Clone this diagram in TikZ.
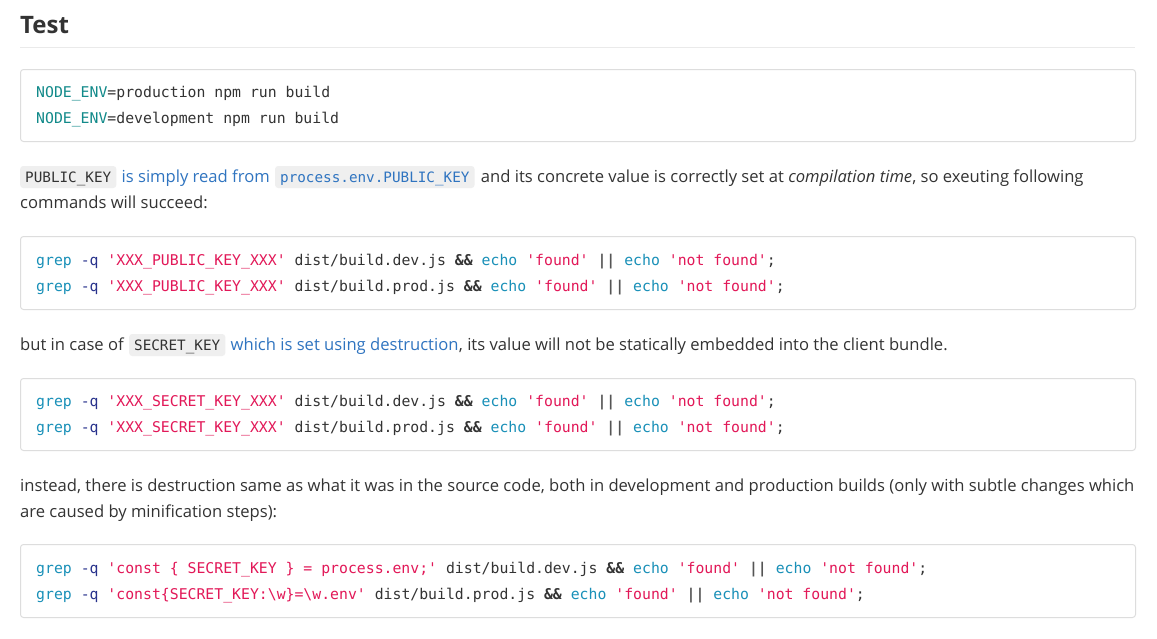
\documentclass[tikz,border=0pt]{standalone}
\usepackage{fontspec}
\setmainfont{Open Sans}
\setmonofont{DejaVu Sans Mono}
\definecolor{txt}{HTML}{333333}
\definecolor{lnk}{RGB}{47,116,192}
\definecolor{icbg}{HTML}{EFEFEF}
\definecolor{boxline}{HTML}{DDDDDD}
\definecolor{rulec}{HTML}{EAEAEA}
\definecolor{envc}{RGB}{18,138,138}
\definecolor{kw}{RGB}{25,144,184}
\definecolor{par}{RGB}{40,50,140}
\definecolor{str}{RGB}{226,24,88}
\definecolor{pipe}{HTML}{555555}
\newcommand{\kwd}[1]{\textcolor{kw}{#1}}
\newcommand{\prm}[1]{\textcolor{par}{#1}}
\newcommand{\st}[1]{\textcolor{str}{#1}}
\newcommand{\andand}{\textbf{\&\&}}
\newcommand{\oror}{\textcolor{pipe}{\textbf{||}}}
\begin{document}
\begin{tikzpicture}[x=1pt,y=-1pt,
  body/.style={anchor=base west, inner sep=0pt, text=txt, font=\fontsize{16.6}{20}\selectfont},
  lnktext/.style={body, text=lnk},
  head/.style={anchor=base west, inner sep=0pt, text=txt, font=\fontsize{24}{28}\selectfont\bfseries},
  codebox/.style={draw=boxline, fill=white, rounded corners=3pt, line width=1pt},
  codeline/.style={anchor=base west, inner sep=0pt, text=txt, font=\ttfamily\fontsize{14.8}{18}\selectfont},
  ic/.style={anchor=base west, fill=icbg, rounded corners=3pt, inner xsep=5pt, inner ysep=0pt,
    text height=16pt, text depth=6pt, text=txt, font=\ttfamily\fontsize{14.3}{18}\selectfont},
  iclnk/.style={ic, text=lnk}
]
\useasboundingbox[fill=white] (0,0) rectangle (1157,638);

% heading
\node[head] (title) at (20,33) {Test};
\coordinate (ruleL) at (20,47);
\coordinate (ruleR) at (1135,47);
\draw[rulec, line width=1pt] (ruleL) -- (ruleR);

% code box 1
\node[codebox, anchor=north west, minimum width=1115pt, minimum height=72pt] (box1) at (20,69) {};
\node[codeline] (c1a) at (36,97) {\textcolor{envc}{NODE\_ENV}=production npm run build};
\node[codeline] (c1b) at (36,123) {\textcolor{envc}{NODE\_ENV}=development npm run build};

% paragraph 1
\node[ic] (ic1) at (20,182) {PUBLIC\_KEY};
\node[lnktext] (p1a) at ([xshift=5pt]ic1.base east) {is simply read from};
\node[iclnk] (ic2) at ([xshift=5pt]p1a.base east) {process.env.PUBLIC\_KEY};
\node[body] (p1b) at ([xshift=6pt]ic2.base east) {and its concrete value is correctly set at \textit{compilation time}, so exeuting following};
\node[body] (p1c) at (20,208) {commands will succeed:};

% code box 2
\node[codebox, anchor=north west, minimum width=1115pt, minimum height=73pt] (box2) at (20,236) {};
\node[codeline] (c2a) at (36,265) {\kwd{grep} \prm{-q} \st{'XXX\_PUBLIC\_KEY\_XXX'} dist/build.dev.js \andand{} \kwd{echo} \st{'found'} \oror{} \kwd{echo} \st{'not found'};};
\node[codeline] (c2b) at (36,291) {\kwd{grep} \prm{-q} \st{'XXX\_PUBLIC\_KEY\_XXX'} dist/build.prod.js \andand{} \kwd{echo} \st{'found'} \oror{} \kwd{echo} \st{'not found'};};

% paragraph 2
\node[body] (p2a) at (20,350) {but in case of};
\node[ic] (ic3) at ([xshift=5pt]p2a.base east) {SECRET\_KEY};
\node[lnktext] (p2b) at ([xshift=5pt]ic3.base east) {which is set using destruction};
\node[body] (p2c) at (p2b.base east) {, its value will not be statically embedded into the client bundle.};

% code box 3
\node[codebox, anchor=north west, minimum width=1115pt, minimum height=72pt] (box3) at (20,378) {};
\node[codeline] (c3a) at (36,406) {\kwd{grep} \prm{-q} \st{'XXX\_SECRET\_KEY\_XXX'} dist/build.dev.js \andand{} \kwd{echo} \st{'found'} \oror{} \kwd{echo} \st{'not found'};};
\node[codeline] (c3b) at (36,432) {\kwd{grep} \prm{-q} \st{'XXX\_SECRET\_KEY\_XXX'} dist/build.prod.js \andand{} \kwd{echo} \st{'found'} \oror{} \kwd{echo} \st{'not found'};};

% paragraph 3
\node[body] (p3a) at (20,491) {instead, there is destruction same as what it was in the source code, both in development and production builds (only with subtle changes which};
\node[body] (p3b) at (20,517) {are caused by minification steps):};

% code box 4
\node[codebox, anchor=north west, minimum width=1115pt, minimum height=73pt] (box4) at (20,544) {};
\node[codeline] (c4a) at (36,573) {\kwd{grep} \prm{-q} \st{'const \{ SECRET\_KEY \} = process.env;'} dist/build.dev.js \andand{} \kwd{echo} \st{'found'} \oror{} \kwd{echo} \st{'not found'};};
\node[codeline] (c4b) at (36,599) {\kwd{grep} \prm{-q} \st{'const\{SECRET\_KEY:\textbackslash w\}=\textbackslash w.env'} dist/build.prod.js \andand{} \kwd{echo} \st{'found'} \oror{} \kwd{echo} \st{'not found'};};
\end{tikzpicture}
\end{document}
